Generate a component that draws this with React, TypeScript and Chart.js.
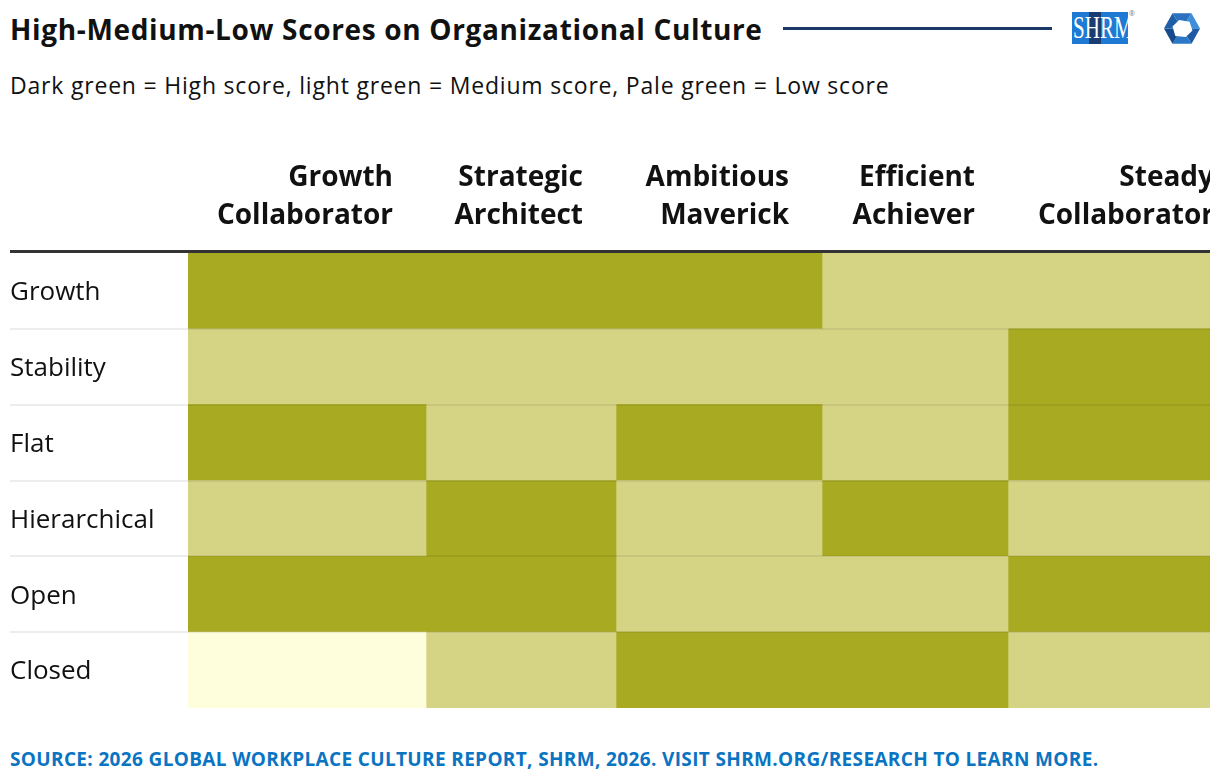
import React, { useEffect, useRef } from "react";
import { Chart, registerables } from "chart.js";

Chart.register(...registerables);

// ---------- data ----------
const ROW_LABELS = ["Growth", "Stability", "Flat", "Hierarchical", "Open", "Closed"];
const COLUMN_LABELS = [
  ["Growth", "Collaborator"],
  ["Strategic", "Architect"],
  ["Ambitious", "Maverick"],
  ["Efficient", "Achiever"],
  ["Steady", "Collaborator"],
];
// score per row (Growth, Stability, Flat, Hierarchical, Open, Closed)
const GROWTH_COLLABORATOR = ["High", "Medium", "High", "Medium", "High", "Low"];
const STRATEGIC_ARCHITECT = ["High", "Medium", "Medium", "High", "High", "Medium"];
const AMBITIOUS_MAVERICK = ["High", "Medium", "High", "Medium", "Medium", "High"];
const EFFICIENT_ACHIEVER = ["Medium", "Medium", "Medium", "High", "Medium", "High"];
const STEADY_COLLABORATOR = ["Medium", "High", "High", "Medium", "High", "Medium"];
const SERIES = [
  GROWTH_COLLABORATOR,
  STRATEGIC_ARCHITECT,
  AMBITIOUS_MAVERICK,
  EFFICIENT_ACHIEVER,
  STEADY_COLLABORATOR,
];

// ---------- layout / style ----------
const COL_WIDTHS = [238, 190, 206, 186, 239];
const VISIBLE_WIDTH = 1022;
const HEADER_PAD = 33;
const LEVEL_COLORS: Record<string, string> = {
  High: "#a8ab21",
  Medium: "#d5d485",
  Low: "#fefedc",
};
const FONT = "'Open Sans', sans-serif";

const headerPlugin = {
  id: "tableDecor",
  afterDatasetsDraw(chart: any) {
    const { ctx, chartArea, scales } = chart;
    const y = scales.y;
    ctx.save();
    // row separators
    ctx.fillStyle = "rgba(0,0,0,0.07)";
    for (let i = 1; i < ROW_LABELS.length; i++) {
      const b = (y.getPixelForValue(i - 1) + y.getPixelForValue(i)) / 2;
      ctx.fillRect(0, Math.round(b) - 1, chartArea.right, 2);
    }
    // header rule
    ctx.fillStyle = "#333333";
    ctx.fillRect(0, chartArea.top - 3, chartArea.right, 3);
    ctx.restore();
  },
  afterDraw(chart: any) {
    const { ctx, chartArea, scales } = chart;
    const x = scales.x;
    ctx.save();
    ctx.font = `bold 28px ${FONT}`;
    ctx.fillStyle = "#111111";
    ctx.textAlign = "right";
    ctx.textBaseline = "middle";
    let cum = 0;
    COLUMN_LABELS.forEach((lines, i) => {
      cum += COL_WIDTHS[i];
      const right = x.getPixelForValue(cum) - HEADER_PAD;
      ctx.fillText(lines[0], right, chartArea.top - 75);
      ctx.fillText(lines[1], right, chartArea.top - 37);
    });
    ctx.restore();
  },
};

function HeatTable() {
  const ref = useRef<HTMLCanvasElement | null>(null);
  useEffect(() => {
    if (!ref.current) return;
    const datasets = SERIES.map((levels, i) => ({
      label: COLUMN_LABELS[i].join(" "),
      data: levels.map(() => COL_WIDTHS[i]),
      backgroundColor: levels.map((l) => LEVEL_COLORS[l]),
      borderWidth: 0,
      barPercentage: 1,
      categoryPercentage: 1,
    }));
    const chart = new Chart(ref.current, {
      type: "bar",
      data: { labels: ROW_LABELS, datasets },
      options: {
        indexAxis: "y",
        animation: false,
        responsive: false,
        layout: { padding: { top: 123, bottom: 20, left: 0, right: 0 } },
        plugins: { legend: { display: false }, tooltip: { enabled: false } },
        scales: {
          x: { stacked: true, min: 0, max: VISIBLE_WIDTH, display: false },
          y: {
            stacked: true,
            grid: { display: false },
            border: { display: false },
            ticks: {
              crossAlign: "far",
              padding: 0,
              labelOffset: 2,
              color: "#111111",
              font: { family: FONT, size: 26 },
            },
            afterFit: (s: any) => {
              s.width = 178;
            },
          },
        },
      },
      plugins: [headerPlugin],
    });
    return () => chart.destroy();
  }, []);
  return (
    <canvas
      ref={ref}
      width={1200}
      height={598}
      style={{ position: "absolute", left: 10, top: 130, width: 1200, height: 598 }}
    />
  );
}

function Logo() {
  return (
    <>
      <div
        style={{
          position: "absolute",
          left: 1072,
          top: 12,
          width: 56,
          height: 32,
          background: "#1f7ad3",
          overflow: "hidden",
        }}
      >
        <div style={{ position: "absolute", left: 17, top: 0, width: 12, height: 32, background: "#1b3c70" }} />
        <div
          style={{
            position: "absolute",
            left: 1,
            top: 0,
            width: 80,
            height: 32,
            color: "white",
            fontFamily: "'Liberation Serif', serif",
            fontSize: 31,
            lineHeight: "32px",
            transform: "scaleX(0.68)",
            transformOrigin: "left center",
          }}
        >
          SHRM
        </div>
      </div>
      <div style={{ position: "absolute", left: 1129, top: 10, fontSize: 7, color: "#777", lineHeight: "8px" }}>®</div>
      <svg
        width={38}
        height={33}
        viewBox="0 0 40 34"
        style={{ position: "absolute", left: 1163, top: 12 }}
      >
        <polygon points="20,17 10,1 30,1" fill="#2a72bf" />
        <polygon points="20,17 30,1 39,17" fill="#3d8fdc" />
        <polygon points="20,17 39,17 30,33" fill="#1d5aa3" />
        <polygon points="20,17 30,33 10,33" fill="#2b78c8" />
        <polygon points="20,17 10,33 1,17" fill="#174a8a" />
        <polygon points="20,17 1,17 10,1" fill="#1f5fa8" />
        <polygon points="17,8 28,10 31,19 24,26 13,25 10,15" fill="#ffffff" />
      </svg>
    </>
  );
}

export default function App() {
  return (
    <div
      style={{
        position: "fixed",
        left: 0,
        top: 0,
        width: 1220,
        height: 782,
        background: "#ffffff",
        overflow: "hidden",
        fontFamily: FONT,
        color: "#111111",
      }}
    >
      <div
        style={{
          position: "absolute",
          left: 10,
          top: 13,
          fontSize: 28,
          fontWeight: 700,
          letterSpacing: "0.65px",
          lineHeight: "32px",
          whiteSpace: "nowrap",
        }}
      >
        High-Medium-Low Scores on Organizational Culture
      </div>
      <div style={{ position: "absolute", left: 783, top: 27, width: 269, height: 3, background: "#1c3866" }} />
      <Logo />
      <div
        style={{
          position: "absolute",
          left: 10,
          top: 69,
          fontSize: 23,
          letterSpacing: "0.8px",
          lineHeight: "32px",
          whiteSpace: "nowrap",
        }}
      >
        Dark green = High score, light green = Medium score, Pale green = Low score
      </div>
      <HeatTable />
      <div
        style={{
          position: "absolute",
          left: 10,
          top: 746,
          fontSize: 19,
          fontWeight: 700,
          letterSpacing: "0.35px",
          lineHeight: "26px",
          color: "#0a74c2",
          whiteSpace: "nowrap",
        }}
      >
        SOURCE: 2026 GLOBAL WORKPLACE CULTURE REPORT, SHRM, 2026. VISIT SHRM.ORG/RESEARCH TO LEARN MORE.
      </div>
    </div>
  );
}
